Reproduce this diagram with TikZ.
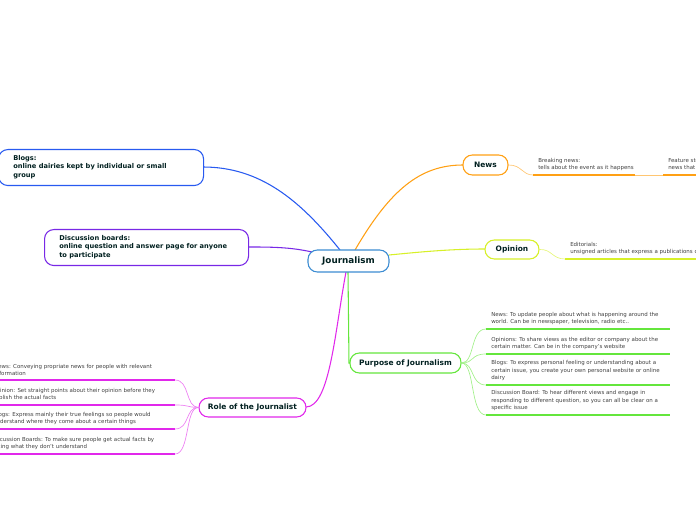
\documentclass[tikz,border=0pt]{standalone}
\usepackage{fontspec}
\setmainfont{DejaVu Sans}
\definecolor{cblue}{RGB}{40,90,240}
\definecolor{cpurp}{RGB}{120,40,230}
\definecolor{cyel}{RGB}{215,240,40}
\definecolor{cgrn}{RGB}{100,230,60}
\definecolor{cj}{RGB}{60,140,210}
\definecolor{cmag}{RGB}{225,40,235}
\definecolor{corg}{RGB}{255,160,20}
\begin{document}
\begin{tikzpicture}[x=0.75pt,y=-0.75pt,
  box/.style={draw=#1,line width=0.8pt,rounded corners=7pt,fill=white,font=\bfseries\fontsize{5.6}{7}\selectfont,text=black!75!teal,inner sep=0pt},
  small/.style={font=\fontsize{4.1}{5.6}\selectfont,text=black!75,align=left,anchor=south west,inner sep=0pt},
  con/.style={draw=#1,line width=0.8pt},
  thin/.style={draw=#1!60,line width=0.5pt},
  ul/.style={draw=#1,line width=1.2pt}]
\useasboundingbox (0,0) rectangle (696,520);
\clip (0,0) rectangle (696,520);
\draw[con=cblue] (340,250) .. controls (300,200) and (260,167) .. (203,167);
\draw[con=cpurp] (312,252) .. controls (290,247) and (270,247) .. (248,247);
\draw[con=corg] (355,250) .. controls (390,190) and (420,165) .. (463,165);
\draw[con=cyel] (389,255) .. controls (420,252) and (450,249) .. (485,249);
\draw[con=cgrn] (348,272) -- (349,363) -- (350,363);
\draw[con=cmag] (346,272) .. controls (335,330) and (330,407) .. (306,407);
\node[box=cblue,minimum width=205*0.75pt,minimum height=36*0.75pt,anchor=north west] (blogs) at (-2,149) {};
\node[small,font=\bfseries\fontsize{5}{6.4}\selectfont,text=black!75!teal,anchor=west] at (13,167) {Blogs:\\online dairies kept by individual or small\\group};
\node[box=cpurp,minimum width=204*0.75pt,minimum height=36*0.75pt,anchor=north west] (disc) at (44,229) {};
\node[small,font=\bfseries\fontsize{5}{6.4}\selectfont,text=black!75!teal,anchor=west] at (59,247) {Discussion boards:\\online question and answer page for anyone\\to participate};
\node[box=cj,minimum width=81*0.75pt,minimum height=22*0.75pt] (j) at (348.5,261) {\fontsize{6.6}{8}\selectfont Journalism};
\node[box=corg,minimum width=45*0.75pt,minimum height=20*0.75pt] (news) at (485.5,165) {News};
\node[box=cyel,minimum width=54*0.75pt,minimum height=19*0.75pt] (op) at (512,249.5) {Opinion};
\node[box=cgrn,minimum width=111*0.75pt,minimum height=20*0.75pt] (pur) at (405.5,363) {Purpose of Journalism};
\node[box=cmag,minimum width=107*0.75pt,minimum height=19*0.75pt] (role) at (252.5,407.5) {Role of the Journalist};
% News branch
\draw[thin=corg] (news.east) .. controls (522,165) and (522,175) .. (533,175);
\draw[ul=corg] (533,175) -- (635,175);
\node[small] at (538,171) {Breaking news:\\tells about the event as it happens};
\draw[thin=corg] (635,175) -- (663,175);
\draw[ul=corg] (663,175) -- (700,175);
\node[small] at (668,171) {Feature stories:\\news that are not breaking};
% Opinion branch
\draw[thin=cyel] (op.east) .. controls (552,249) and (552,259) .. (565,259);
\draw[ul=cyel] (565,259) -- (700,259);
\node[small] at (570,255) {Editorials:\\unsigned articles that express a publications opinion};
% Purpose branches
\foreach \y/\t in {329/{News: To update people about what is happening around the\\world. Can be in newspaper, television, radio etc..},
  354/{Opinions: To share views as the editor or company about the\\certain matter. Can be in the company's website},
  385/{Blogs: To express personal feeling or understanding about a\\certain issue, you create your own personal website or online\\dairy},
  415/{Discussion Board: To hear different views and engage in\\responding to different question, so you can all be clear on a\\specific issue}}{
  \draw[thin=cgrn] (pur.east) .. controls (475,363) and (470,\y) .. (486,\y);
  \draw[ul=cgrn] (486,\y) -- (670,\y);
  \node[small] at (491,\y-4) {\t};
}
% Role branches
\foreach \y in {380,405,429,454}{
  \draw[thin=cmag] (role.west) .. controls (185,407) and (190,\y) .. (175,\y);
  \draw[ul=cmag] (-5,\y) -- (175,\y);
}
\node[small] at (-6,376) {News: Conveying propriate news for people with relevant\\information};
\node[small] at (-8,401) {Opinion: Set straight points about their opinion before they\\publish the actual facts};
\node[small] at (-7,425) {Blogs: Express mainly their true feelings so people would\\understand where they come about a certain things};
\node[small] at (-9,450) {Discussion Boards: To make sure people get actual facts by\\asking what they don't understand};
\end{tikzpicture}
\end{document}
